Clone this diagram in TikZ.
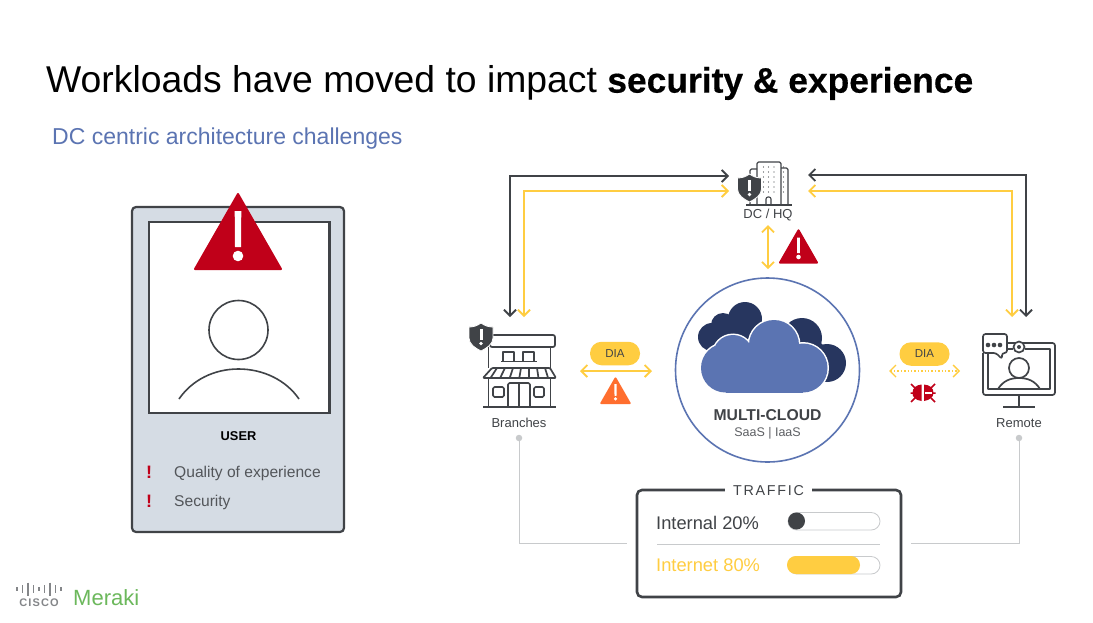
\documentclass[tikz,border=0pt]{standalone}
\usepackage{fontspec}
\setmainfont{Liberation Sans}
\usetikzlibrary{arrows.meta}
\usetikzlibrary{calc}
\definecolor{darkline}{HTML}{404347}
\definecolor{warnred}{HTML}{C00019}
\definecolor{warnorange}{HTML}{FF6E2E}
\definecolor{dia}{HTML}{FFCD41}
\definecolor{cardfill}{HTML}{D5DCE4}
\definecolor{cloudblue}{HTML}{5B74B2}
\definecolor{clouddark}{HTML}{27365F}
\definecolor{lightgrey}{HTML}{C8CACC}
\definecolor{merakigreen}{HTML}{6CB85C}
\tikzset{
  icon/.style={draw=darkline, line width=1.7pt, line join=round},
  darkarrow/.style={darkline, line width=1.8pt, {Straight Barb[length=6pt,width=12pt]}-{Straight Barb[length=6pt,width=12pt]}},
  yelarrow/.style={dia, line width=1.8pt, {Straight Barb[length=6pt,width=12pt]}-{Straight Barb[length=6pt,width=12pt]}},
  greyline/.style={lightgrey, line width=1pt},
  greydot/.style={circle, fill=lightgrey, inner sep=0pt, minimum size=6.5pt},
  pill/.style={rounded corners=11.5pt, fill=dia, text=darkline, minimum width=50pt, minimum height=23.5pt, inner sep=0pt, font=\fontsize{11.5}{13}\selectfont},
  iconlabel/.style={text=darkline, inner sep=0pt, font=\fontsize{13}{15}\selectfont},
  track/.style={draw=lightgrey, line width=.8pt, rounded corners=8.8pt}
}
% warning triangle: centre of base, scale, colour
\newcommand{\warnsign}[4]{
  \begin{scope}[shift={(#1,#2)}, scale=#3]
    \fill[#4, draw=#4, line width=2pt, line join=round] (0,-76) -- (43,-1) -- (-43,-1) -- cycle;
    \fill[white] (-3.3,-59) -- (3.3,-59) -- (3.0,-23) -- (-3.0,-23) -- cycle;
    \fill[white] (0,-14) circle (5.3);
  \end{scope}
}
% shield with a mark: centre
\newcommand{\shieldbadge}[2]{
  \begin{scope}[shift={(#1,#2)}]
    \fill[darkline, draw=white, line width=.8pt] (0,-14) .. controls (-4,-11) and (-8,-10) .. (-12,-10) -- (-12,1)
      .. controls (-12,7) and (-6,11) .. (0,14) .. controls (6,11) and (12,7) .. (12,1) -- (12,-10)
      .. controls (8,-10) and (4,-11) .. (0,-14) -- cycle;
    \fill[white] (-1.5,-8) rectangle (1.5,3);
    \fill[white] (0,6.5) circle (1.9);
  \end{scope}
}

\begin{document}
\begin{tikzpicture}[x=1pt,y=-1pt]
  \useasboundingbox[fill=white] (0,0) rectangle (1093,622);

  % heading
  \node[anchor=west, inner sep=0pt, font=\fontsize{37.3}{44}\selectfont] (title) at (46,83) {Workloads have moved to impact {\fontsize{35.4}{44}\selectfont\bfseries\addfontfeature{FakeBold=0.4}security \& experience}};
  \node[anchor=west, inner sep=0pt, text=cloudblue, font=\fontsize{23}{28}\selectfont] (subtitle) at (52,139) {DC centric architecture challenges};

  % user card
  \draw[fill=cardfill, draw=darkline, line width=2.2pt, rounded corners=4pt] (132,207) rectangle (344,532);
  \draw[fill=white, draw=darkline, line width=2.2pt] (149,222) rectangle (329.5,413);
  \draw[darkline, line width=1.6pt] (238.5,330) circle (29.5);
  \draw[darkline, line width=1.6pt] (179,399) .. controls (192,380) and (214,369) .. (238.5,369) .. controls (263,369) and (286,380) .. (299,399);
  \warnsign{238}{270}{1}{warnred}
  \node[inner sep=0pt, font=\fontsize{12.8}{15}\selectfont\bfseries] (userlabel) at (238.5,436) {USER};
  \node[inner sep=0pt, text=warnred, font=\fontsize{18}{19}\selectfont\bfseries] (markone) at (149,472) {!};
  \node[inner sep=0pt, text=warnred, font=\fontsize{18}{19}\selectfont\bfseries] (marktwo) at (149,501) {!};
  \node[anchor=west, inner sep=0pt, text=darkline!90, font=\fontsize{15.6}{20}\selectfont] (quality) at (174,473) {Quality of experience};
  \node[anchor=west, inner sep=0pt, text=darkline!90, font=\fontsize{15.6}{20}\selectfont] (security) at (174,502) {Security};

  % end points of the long connectors
  \coordinate (dcwestA) at (729,176);
  \coordinate (dcwestB) at (729,191);
  \coordinate (dceastA) at (808,175);
  \coordinate (dceastB) at (808,191);
  \coordinate (branchA) at (510,317);
  \coordinate (branchB) at (524,317);
  \coordinate (remoteA) at (1026,317);
  \coordinate (remoteB) at (1012,317);

  \draw[darkarrow] (dcwestA) -| (branchA);
  \draw[yelarrow] (dcwestB) -| (branchB);
  \draw[darkarrow] (dceastA) -| (remoteA);
  \draw[yelarrow] (dceastB) -| (remoteB);

  % dc / hq
  \begin{scope}[icon, line width=1.1pt]
    \draw[rounded corners=1.5pt] (750,205) -- (750,169) -- (757,169);
    \draw[rounded corners=1.5pt] (781,168) -- (788,168) -- (788,205);
    \draw[rounded corners=1.5pt] (757,205) -- (757,162) -- (781,162) -- (781,205);
    \draw (746,205) -- (792,205);
    \draw[rounded corners=2pt] (766,205) -- (766,197) -- (771,197) -- (771,205);
  \end{scope}
  \foreach \wx in {763.5,768.5,774,783.5}
    \foreach \wy in {167,172,...,192}
      \fill[darkline] (\wx,\wy) circle (.6);
  \shieldbadge{749.5}{188}
  \node[iconlabel] (dclabel) at (768,215) {DC / HQ};
  \warnsign{798.5}{263}{.43}{warnred}

  % multi-cloud
  \node[circle, draw=cloudblue, line width=1.6pt, minimum size=184pt, inner sep=0pt] (cloudring) at (767.5,370) {};
  \fill[clouddark] (712,337) circle (14) (723,325) circle (12) (745,319) circle (17) (735,335) circle (15);
  \fill[clouddark] (802,338) circle (20) (827,363) circle (19) (810,360) circle (20);
  \begin{scope}[white, line width=3pt]
    \filldraw (725.5,368) circle (24.5) (733,355) circle (20) (774,345) circle (25) (803,368) circle (24.5);
    \filldraw (725.5,345.5) rectangle (803,392.5);
  \end{scope}
  \fill[cloudblue] (725.5,368) circle (24.5) (733,355) circle (20) (774,345) circle (25) (803,368) circle (24.5);
  \fill[cloudblue] (725.5,345.5) rectangle (803,392.5);
  \node[inner sep=0pt, text=darkline, font=\fontsize{15.7}{18}\selectfont\bfseries] (cloudname) at (767.5,415) {MULTI-CLOUD};
  \node[inner sep=0pt, text=darkline!85, font=\fontsize{12.5}{15}\selectfont] (cloudsub) at (767.5,433) {SaaS | IaaS};
  \draw[yelarrow, shorten >=8pt, shorten <=4pt] (dclabel) -- (dclabel |- cloudring.north);

  % branches
  \begin{scope}[icon]
    \draw[rounded corners=2pt] (490,347) -- (490,335) -- (555,335) -- (555,347) -- cycle;
    \draw (488.5,347) -- (488.5,368) (550.5,347) -- (550.5,368);
    \draw (488.5,378) -- (488.5,407) (550.5,378) -- (550.5,407);
    \draw (483,407) -- (556,407);
    \draw (503,361.5) -- (503,352) -- (514,352) -- (514,361.5);
    \draw (523,361.5) -- (523,352) -- (534,352) -- (534,361.5);
    \draw (501,361.5) -- (537,361.5);
    \draw[rounded corners=1pt] (492,368) -- (550,368) -- (556,378) -- (483,378) -- cycle;
    \foreach \sx in {0,1,...,6}
      \draw ({497+\sx*8},368) -- ({490.5+\sx*9.6},378);
    \draw[rounded corners=1.5pt] (508,407) -- (508,383) -- (530,383) -- (530,407);
    \draw (519,383) -- (519,407);
    \draw[rounded corners=1.5pt] (493,387) rectangle (504,397);
    \draw[rounded corners=1.5pt] (534,387) rectangle (544,397);
  \end{scope}
  \shieldbadge{481}{337}
  \node[iconlabel] (branchlabel) at (519,423) {Branches};
  \node[greydot] (branchdot) at (519,438) {};

  % remote
  \begin{scope}[icon]
    \draw[rounded corners=2.5pt] (1007,343) -- (1055,343) -- (1055,395) -- (983,395) -- (983,353);
    \draw (988,354) -- (988,389) -- (1050,389) -- (1050,349) -- (1025,349);
    \draw (1006,349) -- (1013,349);
    \draw (1019,395) -- (1019,407);
    \draw (1003,407) -- (1035,407);
    \draw (1019,368) circle (10);
    \draw (998,389) .. controls (1003,381) and (1010,378) .. (1019,378) .. controls (1028,378) and (1035,381) .. (1040,389);
    \draw[fill=white, rounded corners=2.5pt] (1002,353) -- (1007,353) -- (1007,334) -- (983,334) -- (983,353) -- (996,353) -- (1002,359) -- cycle;
    \draw[fill=white] (1019,347) circle (5.5);
  \end{scope}
  \fill[darkline] (1019,347) circle (2);
  \fill[darkline] (988,345) circle (2.3) (994,345) circle (2.3) (1000,345) circle (2.3);
  \node[iconlabel] (remotelabel) at (1019,423) {Remote};
  \node[greydot] (remotedot) at (1019,438) {};

  % dia links
  \node[pill] (leftdia) at (615,353.5) {DIA};
  \node[pill] (rightdia) at (924.5,354) {DIA};
  \coordinate (leftstart) at (580,371);
  \coordinate (leftend) at (652,371);
  \coordinate (rightstart) at (889,371);
  \coordinate (rightend) at (960,371);
  \draw[yelarrow] (leftstart) -- (leftend);
  \draw[yelarrow, line width=1.4pt, dotted] (rightstart) -- (rightend);
  \warnsign{615.5}{403.5}{.33}{warnorange}

  % bug
  \begin{scope}[warnred]
    \fill (921.5,384.5) -- (921.5,401) .. controls (915,400) and (912.5,397) .. (912.5,393) .. controls (912.5,388) and (916,385) .. (921.5,384.5) -- cycle;
    \fill (924,384.5) .. controls (930,385) and (933.5,388) .. (933.5,393) .. controls (933.5,397) and (930,400) .. (924,401) -- cycle;
    \draw[line width=1.5pt] (915,388) -- (911,384) (931,388) -- (935,384) (913.5,393) -- (910.5,393) (932.5,393) -- (935.5,393) (915,398) -- (911,402) (931,398) -- (935,402);
    \fill[white] (925,391.8) rectangle (931.5,393.8);
  \end{scope}

  % traffic
  \draw[greyline] (branchdot) |- ($(637,543.5)+(-10,0)$);
  \draw[greyline] (remotedot) |- ($(901,543.5)+(10,0)$);
  \node[draw=darkline, line width=2.6pt, rounded corners=5pt, fill=white, minimum width=264pt, minimum height=107pt, inner sep=0pt] (trafficbox) at (769,543.5) {};
  \node[fill=white, inner sep=0pt, minimum width=87pt, minimum height=8pt, text=darkline, font=\fontsize{14.3}{17}\selectfont\addfontfeature{LetterSpace=12}] (trafficlabel) at (768.5,490.5) {TRAFFIC};
  \node[anchor=west, inner sep=0pt, text=darkline, font=\fontsize{18.3}{22}\selectfont] (internal) at (656,522.5) {Internal 20\%};
  \node[anchor=west, inner sep=0pt, text=dia, font=\fontsize{18.3}{22}\selectfont] (internet) at (656,565.5) {Internet 80\%};
  \draw[lightgrey, line width=.8pt] (657,544) -- (880,544);
  \draw[track] (788,512.5) rectangle (880,530);
  \fill[darkline] (796.5,521) circle (8.5);
  \draw[track] (788,556.5) rectangle (880,574);
  \fill[dia, rounded corners=8.8pt] (787,556) rectangle (860,574);

  % logo
  \foreach \bi/\bh in {0/4,1/8,2/13,3/8,4/4,5/8,6/13,7/8,8/4}
    \draw[lightgrey!50!darkline, line width=1.4pt] ({17+\bi*5.5},{589-\bh/2}) -- ({17+\bi*5.5},{589+\bh/2});
  \node[inner sep=0pt, text=lightgrey!50!darkline, font=\fontsize{11}{14}\selectfont\bfseries\addfontfeature{LetterSpace=10}] (ciscotext) at (39,602.5) {CISCO};
  \node[anchor=west, inner sep=0pt, text=merakigreen, font=\fontsize{22}{26}\selectfont] (meraki) at (73,598) {Meraki};
\end{tikzpicture}
\end{document}
